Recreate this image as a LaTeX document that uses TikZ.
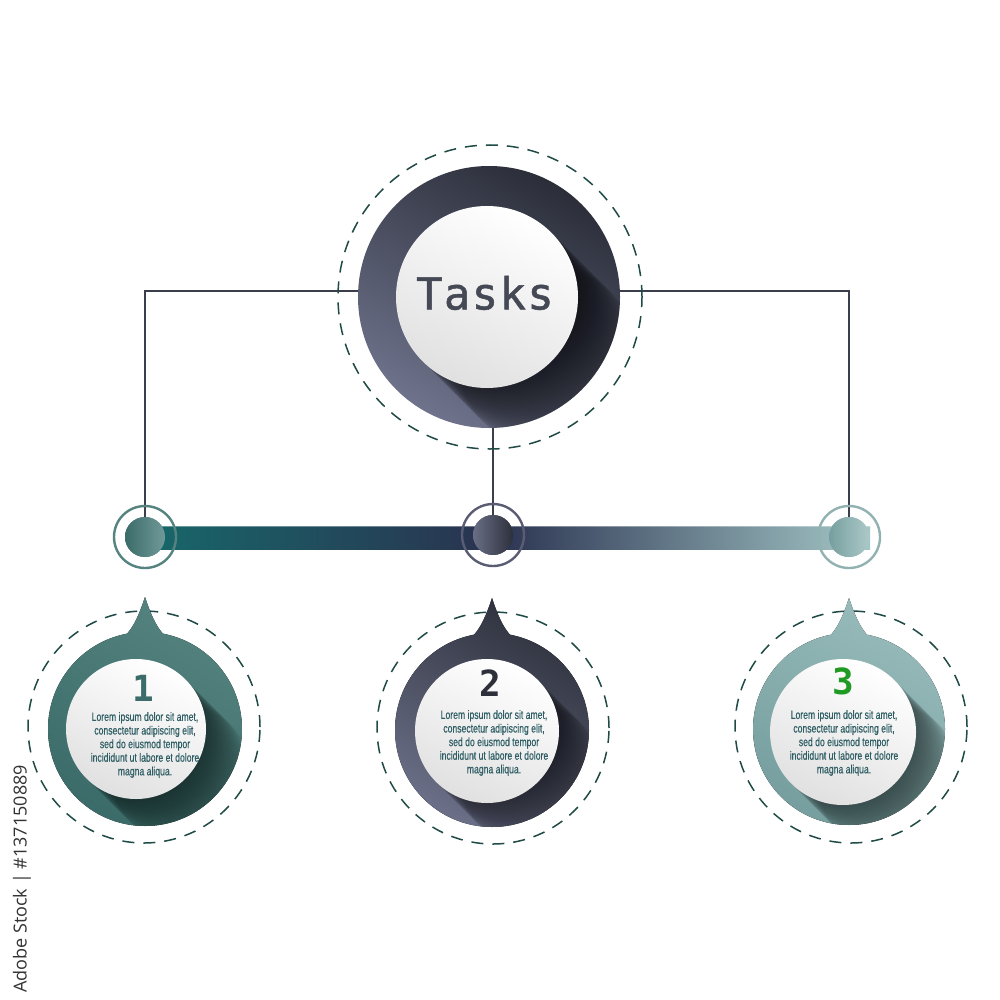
\documentclass[tikz,border=0pt]{standalone}
\usepackage{fontspec}
\setmainfont{Liberation Sans}
\newfontfamily\condfont[FakeStretch=0.72,FakeBold=0.4]{Liberation Sans}
\newfontfamily\digfont{DejaVu Sans Mono}
\newfontfamily\tasksfont[LetterSpace=3,FakeBold=1.2]{DejaVu Sans Mono}
\newfontfamily\sidefont{Open Sans}
\usetikzlibrary{calc}
\definecolor{dashc}{HTML}{1F4A45}
\definecolor{linec}{HTML}{3B3E4C}
\definecolor{loremc}{HTML}{2E5E64}
\definecolor{bara}{HTML}{17686A}
\definecolor{barb}{HTML}{2A3250}
\definecolor{barc}{HTML}{A3C6C6}
\definecolor{navyA}{HTML}{2B2E39}
\definecolor{navyB}{HTML}{6E728B}
\definecolor{tealA}{HTML}{3B6C69}
\definecolor{tealB}{HTML}{55837F}
\definecolor{ltA}{HTML}{779F9F}
\definecolor{ltB}{HTML}{98BBBB}
\definecolor{midA}{HTML}{2D303B}
\definecolor{midB}{HTML}{6A6E86}
\definecolor{tasksc}{HTML}{454855}
\definecolor{dgreen}{HTML}{1F9A22}
\pgfdeclarehorizontalshading{barshade}{100bp}{color(0bp)=(bara); color(25bp)=(bara); color(49bp)=(barb); color(75bp)=(barc); color(100bp)=(barc)}
\tikzset{
  dashring/.style={draw=dashc, line width=1.5pt, dash pattern=on 12pt off 9pt},
  conn/.style={draw=linec, line width=1.1pt},
  lorem/.style={text=loremc, align=center, inner sep=0pt, font=\condfont\fontsize{12}{13.6}\selectfont},
  digit/.style={inner sep=0pt, font=\digfont\bfseries\fontsize{36}{36}\selectfont},
  whitec/.style={circle, inner sep=0pt, top color=white, bottom color=black!12, shading angle=-25},
  dotring/.style={circle, inner sep=0pt, minimum size=62pt, line width=2.4pt},
  dotin/.style={circle, inner sep=0pt, minimum size=40pt},
}
\begin{document}
\begin{tikzpicture}[x=1pt,y=-1pt]
\fill[white] (0,0) rectangle (1000,1000);
\useasboundingbox (0,0) rectangle (1000,1000);

% small dots (named first so connectors can use them)
\node[dotin, left color=tealA, right color=ltA!80!tealB] (d1) at (145,537) {};
\node[dotin, left color=midB, right color=midA] (d2) at (493,535) {};
\node[dotin, left color=ltA, right color=ltB!80!white] (d3) at (849,537) {};

% connectors
\coordinate (tl) at (362,291);
\coordinate (tr) at (616,291);
\coordinate (tb) at (493,420);
\draw[conn] (d1.north) |- (tl);
\draw[conn] (d3.north) |- (tr);
\draw[conn] (tb) -- (d2.north);

% top element
\node[circle, dashring, minimum size=304pt, inner sep=0pt] (topdash) at (490,297) {};
\node[circle, inner sep=0pt, minimum size=262pt, top color=navyA, bottom color=navyB, shading angle=-30] (topring) at (489,297) {};
\begin{scope}
  \clip (489,297) circle[radius=131pt];
  \foreach \i in {1,...,24}
    \fill[black, opacity=0.035] ($(487,297)+(\i*2.6,\i*2.6)$) circle[radius=91pt];
\end{scope}
\node[whitec, minimum size=182pt] (topc) at (487,297) {};
\node[text=tasksc, inner sep=0pt, font=\tasksfont\fontsize{44}{44}\selectfont] (tasks) at (485,293) {Tasks};

% bar
\fill[shading=barshade] (145,526) rectangle (870,549);
\draw[white, opacity=0.35, line width=0.8pt] (150,526.5) -- (870,526.5);
\node[dotring, draw=tealB] (r1) at (145,537) {};
\node[dotring, draw=midB!85!black] (r2) at (493,535) {};
\node[dotring, draw=ltA!80!white] (r3) at (849,537) {};
% redraw inner dots above bar
\node[dotin, left color=tealA, right color=ltA!80!tealB] at (d1) {};
\node[dotin, left color=midB, right color=midA] at (d2) {};
\node[dotin, left color=ltA, right color=ltB!80!white] at (d3) {};
\draw[conn] (d1.north) -- ++(0,-6);
\draw[conn] (d2.north) -- ++(0,-6);
\draw[conn] (d3.north) -- ++(0,-6);

% bottom units
\foreach \n/\dx/\dy/\rx/\ry/\rr/\ca/\cb/\wx/\wy/\wr/\dg/\dgc/\tx/\ty/\gx/\gy in {
  1/144/727/145/729/97/tealB/tealA/136/729/70/1/tealA/145/745/143/688,
  2/493/728/492/730/97/midA/midB/487/731/72/2/midA/494/743/490/683,
  3/851/727/849/729/96/ltB/ltA/843/732/73/3/dgreen/844/743/843/681}
{
  \node[circle, dashring, minimum size=232pt, inner sep=0pt] (ud\n) at (\dx,\dy) {};
  \fill[top color=\cb, bottom color=\ca, shading angle=150]
    (\rx,\ry) circle[radius=\rr pt]
    (\rx+28,\ry-\rr+10) .. controls (\rx+14,\ry-\rr+2) and (\rx+7,\ry-\rr-14) .. (\rx,\ry-\rr-35)
    .. controls (\rx-7,\ry-\rr-14) and (\rx-14,\ry-\rr+2) .. (\rx-28,\ry-\rr+10) -- cycle;
  \node[circle, minimum size=2*\rr pt, inner sep=0pt] (ur\n) at (\rx,\ry) {};
  \begin{scope}
    \clip (\rx,\ry) circle[radius=\rr pt];
    \foreach \i in {1,...,20}
      \fill[black, opacity=0.032] ($(\wx,\wy)+(\i*2.3,\i*2.3)$) circle[radius=\wr pt];
  \end{scope}
  \node[whitec, minimum size=2*\wr pt] (uw\n) at (\wx,\wy) {};
  \node[digit, text=\dgc] (ug\n) at (\gx,\gy) {\dg};
  \node[lorem] (ut\n) at (\tx,\ty) {Lorem ipsum dolor sit amet,\\consectetur adipiscing elit,\\sed do eiusmod tempor\\incididunt ut labore et dolore\\magna aliqua.};
}

% side text
\node[rotate=90, inner sep=0pt, text=black!80, font=\sidefont\fontsize{18}{18}\selectfont] (stock) at (22,879) {Adobe Stock | \#137150889};
\end{tikzpicture}
\end{document}
